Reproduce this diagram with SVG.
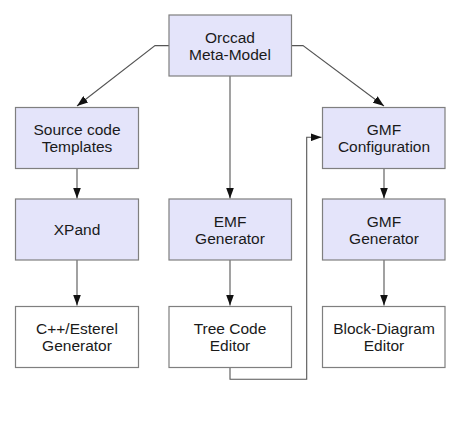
<svg xmlns="http://www.w3.org/2000/svg" width="474" height="429" viewBox="0 0 474 429">
<style>
.box{stroke:#7f7f7f;stroke-width:1.2}
.f{fill:#e4e4fa}
.w{fill:#ffffff}
text{font-family:"Liberation Sans",Arial,sans-serif;font-size:15.5px;fill:#1a1a1a;text-anchor:middle}
.c{fill:none;stroke:#555;stroke-width:1.1}
</style>
<defs>
<marker id="ah" viewBox="0 0 11 8" refX="11" refY="4" markerWidth="11" markerHeight="8" markerUnits="userSpaceOnUse" orient="auto"><path d="M0,0 L11,4 L0,8 z" fill="#111"/></marker>
</defs>
<rect width="474" height="429" fill="#fff"/>
<g id="connectors">
<path class="c" d="M169,45.6 H155 L77,106" marker-end="url(#ah)"/>
<path class="c" d="M291.5,45.6 H303 L384,106" marker-end="url(#ah)"/>
<path class="c" d="M230,76 V198.5" marker-end="url(#ah)"/>
<path class="c" d="M77,168 V198.5" marker-end="url(#ah)"/>
<path class="c" d="M384,168 V198.5" marker-end="url(#ah)"/>
<path class="c" d="M77,260 V305.5" marker-end="url(#ah)"/>
<path class="c" d="M230,260 V305.5" marker-end="url(#ah)"/>
<path class="c" d="M384,260 V305.5" marker-end="url(#ah)"/>
<path class="c" d="M230,367 V379.3 H306.7 V137.3 H321.5" marker-end="url(#ah)"/>
</g>
<g id="orccad"><rect class="box f" x="169" y="15" width="122.5" height="61"/><text x="230" y="43">Orccad</text><text x="230" y="60">Meta-Model</text></g>
<g id="templates"><rect class="box f" x="15.5" y="107.5" width="123" height="61"/><text x="77" y="135">Source code</text><text x="77" y="152">Templates</text></g>
<g id="gmfconfig"><rect class="box f" x="322.5" y="107.5" width="122.5" height="61"/><text x="384" y="135">GMF</text><text x="384" y="152">Configuration</text></g>
<g id="xpand"><rect class="box f" x="15.5" y="199" width="123" height="61"/><text x="77" y="235">XPand</text></g>
<g id="emfgen"><rect class="box f" x="169" y="199" width="122.5" height="61"/><text x="230" y="227">EMF</text><text x="230" y="244">Generator</text></g>
<g id="gmfgen"><rect class="box f" x="322.5" y="199" width="122.5" height="61"/><text x="384" y="227">GMF</text><text x="384" y="244">Generator</text></g>
<g id="cppgen"><rect class="box w" x="15.5" y="306.5" width="123" height="61"/><text x="77" y="334">C++/Esterel</text><text x="77" y="351">Generator</text></g>
<g id="treeeditor"><rect class="box w" x="169" y="306.5" width="122.5" height="61"/><text x="230" y="334">Tree Code</text><text x="230" y="351">Editor</text></g>
<g id="blockeditor"><rect class="box w" x="322.5" y="306.5" width="122.5" height="61"/><text x="384" y="334">Block-Diagram</text><text x="384" y="351">Editor</text></g>
</svg>
